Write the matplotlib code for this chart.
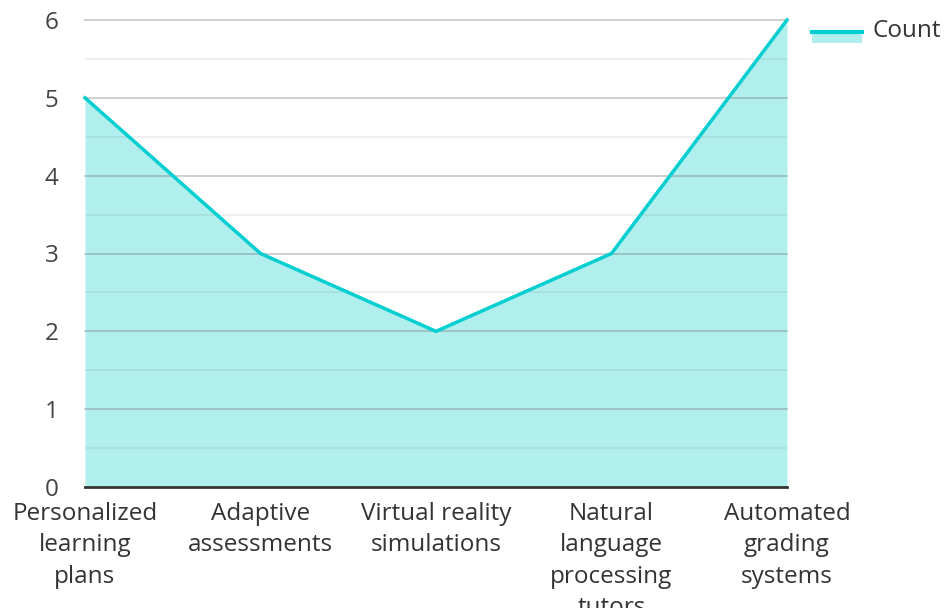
import matplotlib
matplotlib.use("Agg")
import matplotlib.pyplot as plt
from matplotlib.lines import Line2D
from matplotlib.patches import Rectangle

categories = ["Personalized\nlearning\nplans", "Adaptive\nassessments", "Virtual reality\nsimulations",
              "Natural\nlanguage\nprocessing\ntutors", "Automated\ngrading\nsystems"]
counts = [5, 3, 2, 3, 6]
series_name = "Count"

plt.rcParams['font.family'] = ['Open Sans', 'DejaVu Sans']
line_color = "#00CED1"
fill_color = "#B0EFED"
text_color = "#333333"
fs = 17.5

fig = plt.figure(figsize=(9.44, 6.08), dpi=100)
ax = fig.add_axes([85/944, 1-487/608, (787-85)/944, (487-20)/608])

x = list(range(len(categories)))
ax.fill_between(x, counts, 0, color=fill_color, lw=0, zorder=1)
ax.plot(x, counts, color=line_color, lw=2.5, zorder=3, clip_on=False)

ax.set_xlim(0, len(categories)-1)
ax.set_ylim(0, 6)
ax.set_yticks(range(0, 7))
for i in range(1, 13):
    v = i * 0.5
    if i % 2 == 0:
        ax.axhline(v, color=(0.45, 0.45, 0.45, 0.4), lw=1.2, zorder=2, clip_on=False)
    else:
        ax.axhline(v, color=(0.5, 0.5, 0.5, 0.15), lw=1.2, zorder=2)

ax.set_xticks(x)
ax.set_xticklabels(categories, fontsize=fs, color=text_color, linespacing=1.4)
ax.tick_params(axis='y', labelsize=fs, labelcolor="#444444", length=0, pad=19)
ax.tick_params(axis='x', length=0, pad=11)

for s in ["top", "right", "left"]:
    ax.spines[s].set_visible(False)
ax.spines["bottom"].set_color("#333333")
ax.spines["bottom"].set_linewidth(2)
ax.spines["bottom"].set_zorder(4)

# legend
fig.patches.append(Rectangle((812/944, 1-43/608), 50/944, 12/608, transform=fig.transFigure,
                             facecolor=fill_color, edgecolor='none'))
fig.lines.append(Line2D([812/944, 862/944], [1-32/608, 1-32/608], transform=fig.transFigure,
                        color=line_color, lw=3))
fig.text(872/944, 1-31/608, series_name, fontsize=fs, color=text_color, va='center', ha='left')

fig.savefig("out.png", dpi=100)
